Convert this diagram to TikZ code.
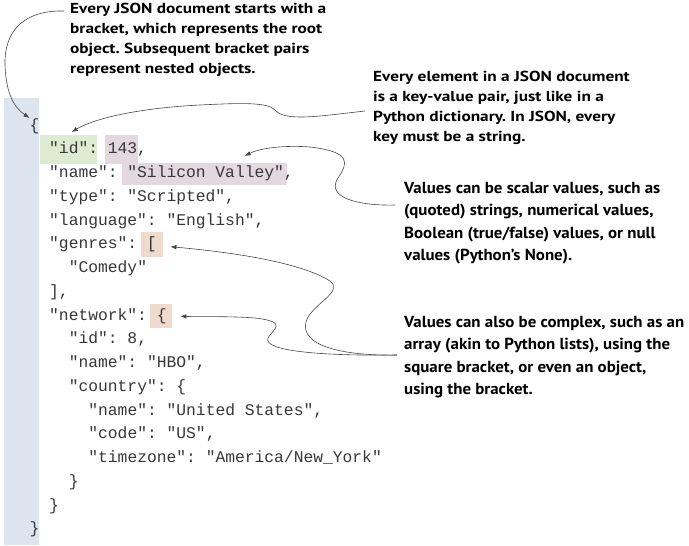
\documentclass[tikz,border=0pt]{standalone}
\usepackage{fontspec}
\setmainfont{PT Sans}
\setmonofont{Liberation Mono}
\newfontfamily\notefont[FakeStretch=1.19]{PT Sans}
\newfontfamily\bignotefont[FakeStretch=1.055]{PT Sans}
\usepackage{xcolor}
\usepackage{tikz}
\usetikzlibrary{arrows.meta}
\frenchspacing
\definecolor{barblue}{RGB}{220,229,239}
\definecolor{keygreen}{RGB}{221,235,211}
\definecolor{valmauve}{RGB}{227,215,224}
\definecolor{valtan}{RGB}{238,219,206}
\definecolor{codegray}{RGB}{55,55,55}
\definecolor{wiregray}{RGB}{70,70,70}
\tikzstyle{code}=[anchor=base west,inner sep=0pt,text=codegray,font=\ttfamily\fontsize{16.3}{20}\selectfont]
\tikzstyle{note}=[anchor=north west,inner sep=0pt,align=left,font=\notefont\bfseries\fontsize{14.5}{20}\selectfont]
\tikzstyle{bignote}=[note,font=\bignotefont\bfseries\fontsize{16}{22.3}\selectfont]
\tikzstyle{hl}=[anchor=north west,inner sep=0pt,draw=none]
\tikzstyle{callout}=[draw=wiregray,line width=0.6pt,-{Latex[length=6pt,width=4.5pt]}]

\begin{document}
\begin{tikzpicture}[x=1pt,y=-1pt]
		\useasboundingbox (0,0) rectangle (689,546);
		% highlights
		\node[hl,fill=barblue,minimum width=35pt,minimum height=447pt] (bar) at (4,98) {};
		\node[hl,fill=keygreen,minimum width=57pt,minimum height=29pt] (keybox) at (40,135) {};
		\node[hl,fill=valmauve,minimum width=33pt,minimum height=29pt] (numbox) at (105,135) {};
		\node[hl,fill=valmauve,minimum width=165pt,minimum height=22pt] (strbox) at (122,163) {};
		\node[hl,fill=valtan,minimum width=22pt,minimum height=25pt] (arrbox) at (141,232) {};
		\node[hl,fill=valtan,minimum width=22pt,minimum height=24pt] (objbox) at (150,304) {};
		% the JSON document
		\node[code] (open) at (29.5,130) {\{};
		\node[code] (id) at (49,153.8) {"id": 143,};
		\node[code] (name) at (49,177.5) {"name": "Silicon Valley",};
		\node[code] (type) at (49,201.3) {"type": "Scripted",};
		\node[code] (language) at (49,225) {"language": "English",};
		\node[code] (genres) at (49,248.8) {"genres": [};
		\node[code] (comedy) at (68.6,272.6) {"Comedy"};
		\node[code] (genresend) at (49,296.3) {],};
		\node[code] (network) at (49,320.1) {"network": \{};
		\node[code] (netid) at (68.6,343.8) {"id": 8,};
		\node[code] (netname) at (68.6,367.6) {"name": "HBO",};
		\node[code] (country) at (68.6,391.4) {"country": \{};
		\node[code] (cname) at (88.2,415.1) {"name": "United States",};
		\node[code] (ccode) at (88.2,438.9) {"code": "US",};
		\node[code] (ctz) at (88.2,462.6) {"timezone": "America/New\_York"};
		\node[code] (countryend) at (68.6,486.4) {\}};
		\node[code] (networkend) at (49,510.2) {\}};
		\node[code] (close) at (29.5,533.9) {\}};
		% notes
		\node[note] (rootnote) at (70,3) {Every JSON document starts with a\\bracket, which represents the root\\object. Subsequent bracket pairs\\represent nested objects.};
		\node[note] (pairnote) at (373,71) {Every element in a JSON document\\is a key-value pair, just like in a\\Python dictionary. In JSON, every\\key must be a string.};
		\node[bignote] (scalarnote) at (404,182) {Values can be scalar values, such as\\(quoted) strings, numerical values,\\Boolean (true/false) values, or null\\values (Python’s None).};
		\node[bignote] (complexnote) at (404,316) {Values can also be complex, such as an\\array (akin to Python lists), using the\\square bracket, or even an object,\\using the bracket.};
		% callouts
		\draw[callout] ([xshift=-6pt,yshift=-8pt]rootnote.north west) .. controls (25,10) and (4,30) .. (5,65) .. controls (6,95) and (15,108) .. (open.north west);
		\draw[callout] ([xshift=-8pt,yshift=-40pt]pairnote.north west) .. controls (320,116) and (285,122) .. (275,110) .. controls (268,102) and (240,103) .. (200,105) .. controls (140,108) and (95,118) .. ([xshift=3pt,yshift=3pt]keybox.north);
		\draw[callout] ([xshift=-9pt,yshift=-23pt]scalarnote.north west) .. controls (360,206) and (325,198) .. (338,178) .. controls (348,163) and (352,152) .. (310,147) .. controls (285,145) and (260,148) .. ([xshift=40pt,yshift=7pt]strbox.north);
		\draw[callout] ([xshift=-7pt,yshift=-39pt]complexnote.north west) .. controls (340,356) and (300,345) .. (306,322) .. controls (310,305) and (345,292) .. (330,281) .. controls (300,262) and (230,252) .. ([xshift=7pt,yshift=-2pt]arrbox.east);
		\draw[callout] ([xshift=-7pt,yshift=-39pt]complexnote.north west) .. controls (330,356) and (262,352) .. (268,338) .. controls (272,330) and (290,322) .. (255,318) .. controls (230,316) and (200,317) .. ([xshift=8pt]objbox.east);
\end{tikzpicture}
\end{document}
